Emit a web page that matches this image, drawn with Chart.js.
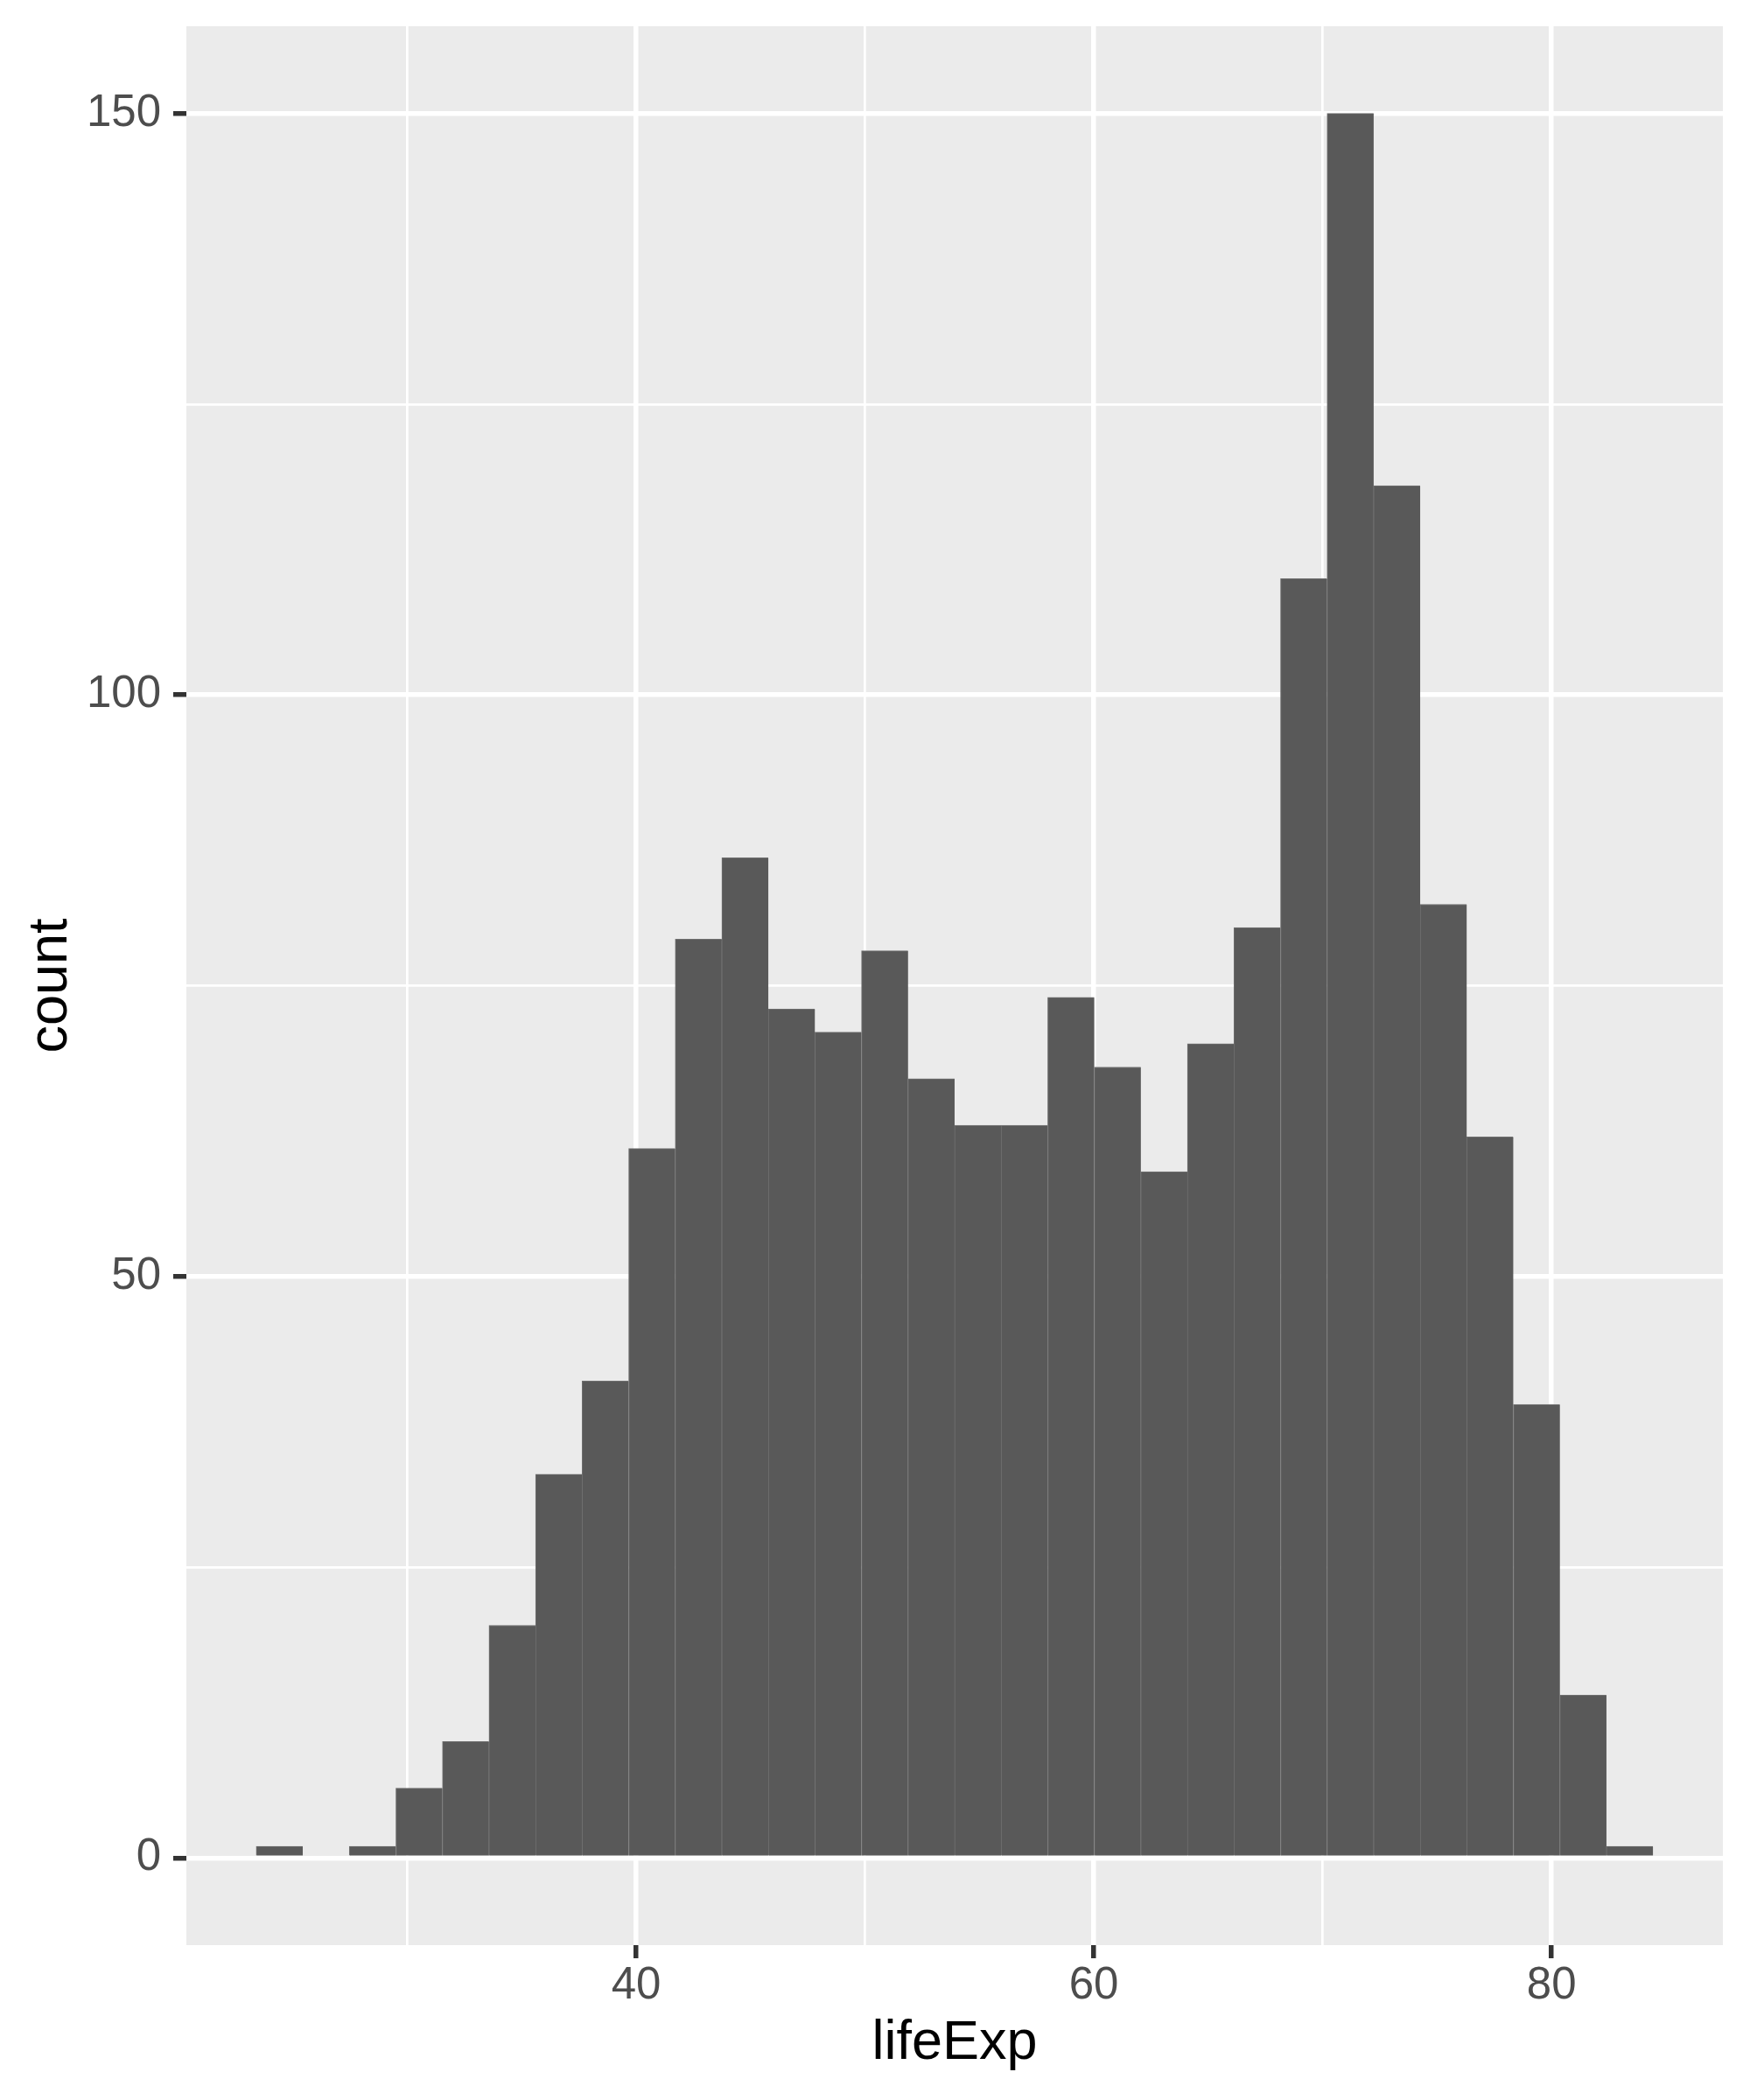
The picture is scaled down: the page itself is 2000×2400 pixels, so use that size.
<!DOCTYPE html>
<html>
<head>
<meta charset="utf-8">
<script src="https://cdn.jsdelivr.net/npm/chart.js@4/dist/chart.umd.min.js"></script>
<style>
  html, body { margin: 0; padding: 0; background: #ffffff; }
  #wrap { width: 2000px; height: 2400px; }
</style>
</head>
<body>
<div id="wrap"><canvas id="histChart" width="2000" height="2400"></canvas></div>
<script>
// bin centres of the 30 lifeExp bins (width ~2.03)
const binCenters = [24.415, 26.450, 28.484, 30.519, 32.553, 34.588, 36.623, 38.657, 40.692, 42.726,
                    44.761, 46.796, 48.830, 50.865, 52.899, 54.934, 56.968, 59.003, 61.038, 63.072,
                    65.107, 67.141, 69.176, 71.211, 73.245, 75.280, 77.314, 79.349, 81.384, 83.418];
const counts = [1, 0, 1, 6, 10, 20, 33, 41, 61, 79,
                86, 73, 71, 78, 67, 63, 63, 74, 68, 59,
                70, 80, 110, 150, 118, 82, 62, 39, 14, 1];

const xTicks = [30, 40, 50, 60, 70, 80];
const xMajor = [40, 60, 80];
const yTicks = [0, 25, 50, 75, 100, 125, 150];
const yMajor = [0, 50, 100, 150];

const xTitle = 'lifeExp';
const yTitle = 'count';

// grey panel behind the grid
const panelBg = {
    id: 'panelBg',
    beforeDraw(chart) {
        const a = chart.chartArea;
        const c = chart.ctx;
        c.save();
        c.fillStyle = '#EBEBEB';
        c.fillRect(a.left, a.top, a.right - a.left, a.bottom - a.top);
        c.restore();
    }
};

const gridFor = (major) => ({
    color: '#ffffff',
    lineWidth: ctx => major.includes(ctx.tick.value) ? 5.5 : 2.7,
    tickColor: ctx => major.includes(ctx.tick.value) ? '#333333' : 'rgba(0,0,0,0)',
    tickWidth: 5.5,
    tickLength: 15,
    drawTicks: true,
    offset: false
});

// fixed axis sizes, no extra label overhang padding
const fixSize = (w, h) => scale => {
    if (w) scale.width = w;
    if (h) scale.height = h;
    scale.paddingTop = 0;
    scale.paddingBottom = 0;
    scale.paddingLeft = 0;
    scale.paddingRight = 0;
};

const ctx = document.getElementById('histChart').getContext('2d');

new Chart(ctx, {
    type: 'bar',
    data: {
        datasets: [{
            data: binCenters.map((x, i) => ({ x: x, y: counts[i] })),
            backgroundColor: '#595959',
            borderColor: '#6f6f6f',
            borderWidth: { left: 1, top: 1, right: 0, bottom: 0 },
            borderSkipped: false,
            barPercentage: 1.0,
            categoryPercentage: 1.0
        }]
    },
    options: {
        responsive: false,
        animation: false,
        devicePixelRatio: 1,
        layout: { padding: { top: 30, right: 31, left: 0, bottom: 0 } },
        plugins: {
            legend: { display: false },
            tooltip: { enabled: false }
        },
        scales: {
            x: {
                type: 'linear',
                min: 20.346,
                max: 87.488,
                offset: false,
                border: { display: false },
                grid: gridFor(xMajor),
                afterBuildTicks: scale => { scale.ticks = xTicks.map(v => ({ value: v })); },
                afterFit: fixSize(0, 177),
                ticks: {
                    autoSkip: false,
                    maxRotation: 0,
                    padding: 1,
                    color: '#4D4D4D',
                    font: { family: 'Liberation Sans, Arial, sans-serif', size: 51 },
                    callback: v => xMajor.includes(v) ? String(v) : ''
                },
                title: {
                    display: true,
                    text: xTitle,
                    color: '#000000',
                    font: { family: 'Liberation Sans, Arial, sans-serif', size: 63 },
                    padding: { top: 0, bottom: 27 }
                }
            },
            y: {
                min: -7.5,
                max: 157.5,
                border: { display: false },
                grid: gridFor(yMajor),
                afterBuildTicks: scale => { scale.ticks = yTicks.map(v => ({ value: v })); },
                afterFit: fixSize(213, 0),
                ticks: {
                    autoSkip: false,
                    padding: 14,
                    color: '#4D4D4D',
                    font: { family: 'Liberation Sans, Arial, sans-serif', size: 51 },
                    callback: v => yMajor.includes(v) ? String(v) : ''
                },
                title: {
                    display: true,
                    text: yTitle,
                    color: '#000000',
                    font: { family: 'Liberation Sans, Arial, sans-serif', size: 63 },
                    padding: { top: 21, bottom: 0 }
                }
            }
        }
    },
    plugins: [panelBg]
});
</script>
</body>
</html>
